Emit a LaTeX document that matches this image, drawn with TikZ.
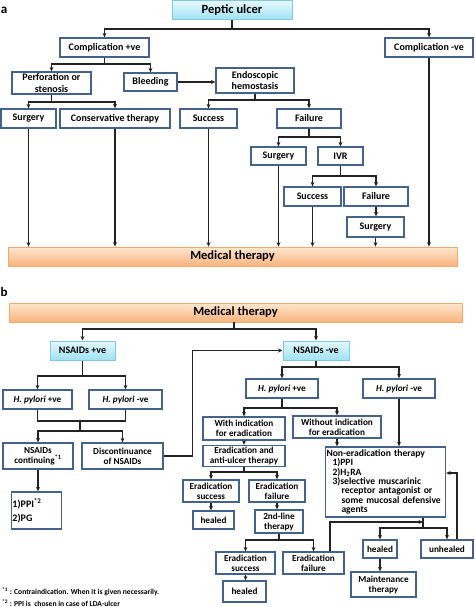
\documentclass[tikz,border=0pt]{standalone}
\usepackage{fontspec}
\setmainfont{Carlito}
\usetikzlibrary{arrows.meta}
\definecolor{boxline}{RGB}{68,98,142}
\definecolor{linegray}{RGB}{35,35,35}
\definecolor{cyanlight}{RGB}{228,248,253}
\definecolor{cyandark}{RGB}{160,226,244}
\definecolor{cyanline}{RGB}{130,200,228}
\definecolor{orangelight}{RGB}{253,232,208}
\definecolor{orangedark}{RGB}{249,178,124}
\definecolor{orangeline}{RGB}{244,170,110}
\begin{document}
\begin{tikzpicture}[x=1pt, y=-1pt,
        box/.style={draw=boxline, line width=1.3pt, fill=white, inner sep=1pt, align=center, font=\bfseries\fontsize{10}{11.5}\selectfont},
        boxb/.style={box, font=\bfseries\fontsize{9.2}{10}\selectfont},
        topic/.style={draw=cyanline, line width=1pt, top color=cyanlight, bottom color=cyandark, inner sep=1pt, font=\bfseries\fontsize{10}{10}\selectfont},
        bar/.style={draw=orangeline, line width=0.8pt, top color=orangelight, bottom color=orangedark, font=\bfseries\fontsize{12.5}{13}\selectfont},
        arrow/.style={->, >={Stealth[length=4.5pt,width=4pt]}, draw=linegray, line width=1.2pt},
        wire/.style={draw=linegray, line width=1.2pt},
        tag/.style={inner sep=0pt, font=\bfseries\fontsize{13}{13}\selectfont},
        note/.style={anchor=west, inner sep=0pt, font=\bfseries\fontsize{7.6}{8}\selectfont}
    ]
    \useasboundingbox (0,0) rectangle (474,607);

    % part a
    \node[tag] (la) at (4,10.5) {a};
    \node[topic, minimum width=120, minimum height=19, font=\bfseries\fontsize{12.5}{13}\selectfont] (pu) at (232,10.5) {Peptic ulcer};
    \node[box, minimum width=89, minimum height=19] (cp) at (104.5,47.5) {Complication +ve};
    \node[box, minimum width=88, minimum height=19] (cn) at (429,47.5) {Complication -ve};
    \node[box, minimum width=79, minimum height=22] (pf) at (51.5,83) {Perforation or\\stenosis};
    \node[box, minimum width=53, minimum height=18] (bl) at (150.5,82) {Bleeding};
    \node[box, minimum width=78, minimum height=25] (eh) at (255,80.5) {Endoscopic\\hemostasis};
    \node[box, minimum width=55, minimum height=19] (sg1) at (28.5,118.5) {Surgery};
    \node[box, minimum width=110, minimum height=19] (ct) at (115,118.5) {Conservative therapy};
    \node[box, minimum width=57, minimum height=19] (sc1) at (208.5,118.5) {Success};
    \node[box, minimum width=64, minimum height=19] (fl1) at (309,118.5) {Failure};
    \node[box, minimum width=55, minimum height=18] (sg2) at (278.5,156) {Surgery};
    \node[box, minimum width=45, minimum height=18] (ivr) at (340.5,156) {IVR};
    \node[box, minimum width=57, minimum height=19] (sc2) at (312.5,196.5) {Success};
    \node[box, minimum width=64, minimum height=19] (fl2) at (376,196.5) {Failure};
    \node[box, minimum width=57, minimum height=20] (sg3) at (375.5,227) {Surgery};
    \node[bar, minimum width=449, minimum height=19] (mt1) at (232.5,256.5) {Medical therapy};

    \coordinate (j1) at (232,29);
    \draw[wire] (pu) -- (j1);
    \draw[arrow] (j1) -| (cp);
    \draw[arrow] (j1) -| (cn);
    \coordinate (j2) at (104.5,64);
    \draw[wire] (cp) -- (j2);
    \draw[arrow] (j2) -| (pf);
    \draw[arrow] (j2) -| (bl);
    \draw[arrow] (bl) -- (eh.west |- bl);
    \coordinate (j3) at (51.5,102);
    \draw[wire] (pf) -- (j3);
    \draw[arrow] (j3) -| (sg1);
    \draw[arrow] (j3) -| (ct);
    \coordinate (j4) at (255,100);
    \draw[wire] (eh) -- (j4);
    \draw[arrow] (j4) -| (sc1);
    \draw[arrow] (j4) -| (fl1);
    \coordinate (j5) at (309,137);
    \draw[wire] (fl1) -- (j5);
    \draw[arrow] (j5) -| (sg2);
    \draw[arrow] (j5) -| (ivr);
    \coordinate (j6) at (340.5,176);
    \draw[wire] (ivr) -- (j6);
    \draw[arrow] (j6) -| (sc2);
    \draw[arrow] (j6) -| (fl2);
    \draw[arrow] (fl2.south) -- (fl2.south |- sg3.north);
    \foreach \n in {sg1,ct,sc1,sg2,sc2,sg3,cn}
        \draw[arrow] (\n) -- (\n |- mt1.north);

    % part b
    \node[tag] (lb) at (4,292) {b};
    \node[bar, minimum width=453, minimum height=19] (mt2) at (235.5,312.5) {Medical therapy};
    \node[topic, minimum width=65, minimum height=19] (np) at (82.5,350.5) {NSAIDs +ve};
    \node[topic, minimum width=66, minimum height=19] (nn) at (316,350.5) {NSAIDs -ve};
    \coordinate (j7) at (234,329);
    \draw[wire] (mt2.south -| j7) -- (j7);
    \draw[arrow] (j7) -| (np);
    \draw[arrow] (j7) -| (nn);

    \node[boxb, minimum width=69, minimum height=19] (hp1) at (37.5,399.5) {\textit{H. pylori} +ve};
    \node[boxb, minimum width=73, minimum height=19] (hn1) at (125.5,399.5) {\textit{H. pylori} -ve};
    \coordinate (j8) at (82.5,376);
    \draw[wire] (np) -- (j8);
    \draw[arrow] (j8) -| (hp1);
    \draw[arrow] (j8) -| (hn1);
    \coordinate (j9) at (80,421);
    \coordinate (j10) at (80,431);
    \draw[wire] (hp1) |- (j9) -| (hn1);
    \draw[wire] (j9) -- (j10);
    \node[boxb, minimum width=70, minimum height=26] (nc) at (38,456) {NSAIDs\\continuing\textsuperscript{*1}};
    \node[boxb, minimum width=81, minimum height=26] (dn) at (122.5,456) {Discontinuance\\of NSAIDs};
    \draw[arrow] (j10) -| (nc);
    \draw[arrow] (j10) -| (dn);
    \draw[arrow] (dn.east) -- ++(29,0) |- (nn.west);
    \node[boxb, minimum height=37, text width=48pt, align=left, font=\bfseries\fontsize{10}{14}\selectfont] (ppi) at (36.5,510.5) {1)PPI\textsuperscript{*2}\\2)PG};
    \draw[arrow] (nc.south) -- (nc.south |- ppi.north);

    \node[boxb, minimum width=72, minimum height=19] (hp2) at (282,388.5) {\textit{H. pylori} +ve};
    \node[boxb, minimum width=72, minimum height=19] (hn2) at (399,388.5) {\textit{H. pylori} -ve};
    \coordinate (j11) at (316,367);
    \draw[wire] (nn) -- (j11);
    \draw[arrow] (j11) -| (hp2);
    \draw[arrow] (j11) -| (hn2);
    \node[boxb, minimum width=82, minimum height=23] (wi) at (244,428.5) {With indication\\for eradication};
    \node[boxb, minimum width=88, minimum height=22] (wo) at (337,427) {Without indication\\for eradication};
    \coordinate (j12) at (282,408);
    \draw[wire] (hp2) -- (j12);
    \draw[arrow] (j12) -| (wi);
    \draw[arrow] (j12) -| (wo);
    \node[boxb, minimum width=82, minimum height=21] (ea) at (244,456) {Eradication and\\anti-ulcer therapy};
    \draw[arrow] (wi) -- (ea);
    \node[boxb, text width=118pt, align=left, minimum height=70, font=\bfseries\fontsize{9.6}{9.4}\selectfont] (ne) at (385.5,482) {Non-eradication therapy\\
        \hspace*{6pt}1)PPI\\
        \hspace*{6pt}2)H\textsubscript{2}RA\\
        \hspace*{6pt}3)selective muscarinic\\
        \hspace*{15pt}receptor antagonist or\\
        \hspace*{15pt}some mucosal defensive\\
        \hspace*{15pt}agents};
    \draw[arrow] (wo.south) -- (wo.south |- ne.north);
    \draw[arrow] (hn2) -- (hn2 |- ne.north);

    \coordinate (j13) at (244,472);
    \draw[wire] (ea) -- (j13);
    \node[boxb, minimum width=56, minimum height=22] (es1) at (211,491) {Eradication\\success};
    \node[boxb, minimum width=56, minimum height=22] (ef1) at (277,491) {Eradication\\failure};
    \draw[arrow] (j13) -| (es1);
    \draw[arrow] (j13) -| (ef1);
    \node[boxb, minimum width=41, minimum height=18] (hd1) at (213.5,520) {healed};
    \draw[arrow] (es1.south) -- (es1.south |- hd1.north);
    \node[boxb, minimum width=48, minimum height=23] (sl) at (279,521.5) {2nd-line\\therapy};
    \draw[arrow] (ef1.south) -- (ef1.south |- sl.north);
    \coordinate (j14) at (279,540);
    \draw[wire] (sl) -- (j14);
    \node[boxb, minimum width=59, minimum height=22] (es2) at (245.5,563) {Eradication\\success};
    \node[boxb, minimum width=61, minimum height=22] (ef2) at (313.5,563) {Eradication\\failure};
    \draw[arrow] (j14) -| (es2);
    \draw[arrow] (j14) -| (ef2);
    \node[boxb, minimum width=43, minimum height=21] (hd2) at (244.5,591.5) {healed};
    \draw[arrow] (es2.south) -- (es2.south |- hd2.north);

    \coordinate (j15) at (423,528);
    \coordinate (j16) at (423,522);
    \draw[wire] (ne.south -| j15) -- (j15);
    \draw[arrow] ([xshift=16.5pt]ef2.north) |- (j16);
    \node[boxb, minimum width=34, minimum height=18] (hd3) at (380,549) {healed};
    \node[boxb, minimum width=52, minimum height=18] (uh) at (447,549) {unhealed};
    \draw[arrow] (j15) -| (hd3);
    \draw[arrow] (j15) -| (uh);
    \draw[arrow] ([xshift=10pt]uh.north) |- ([yshift=9pt]ne.east);
    \node[boxb, minimum width=65, minimum height=25] (mn) at (383.5,584.5) {Maintenance\\therapy};
    \draw[arrow] (hd3.south) -- (hd3.south |- mn.north);

    \node[note] (fn1) at (2,592) {\textsuperscript{*1} : Contraindication. When it is given necessarily.};
    \node[note] (fn2) at (2,603) {\textsuperscript{*2} : PPI is\ \ chosen in case of LDA-ulcer};
\end{tikzpicture}
\end{document}
